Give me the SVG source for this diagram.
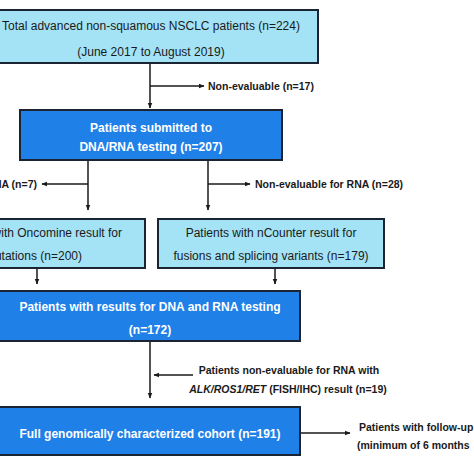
<svg xmlns="http://www.w3.org/2000/svg" width="474" height="474" viewBox="0 0 474 474">
<defs>
<style>
.light{fill:#a4e3f6;stroke:#1b2433;stroke-width:2}
.dark{fill:#1f80e8;stroke:#1b2433;stroke-width:2}
.t{font-family:"Liberation Sans",Arial,sans-serif;font-size:12px;fill:#1a1a1a}
.tw{font-family:"Liberation Sans",Arial,sans-serif;font-size:12px;font-weight:bold;fill:#ffffff}
.lb{font-family:"Liberation Sans",Arial,sans-serif;font-size:10.5px;font-weight:bold;fill:#1a1a1a}
.ln{stroke:#1a1a1a;stroke-width:1.5;fill:none}
</style>
<marker id="ah" viewBox="0 0 10 10" refX="9" refY="5" markerWidth="4" markerHeight="4" orient="auto">
<path d="M0,1 L10,5 L0,9 z" fill="#1a1a1a"/>
</marker>
</defs>
<rect width="474" height="474" fill="#ffffff"/>
<g id="connectors">
<path class="ln" d="M150,63 V108" marker-end="url(#ah)"/>
<path class="ln" d="M150,86 H204" marker-end="url(#ah)"/>
<path class="ln" d="M88,160 V210" marker-end="url(#ah)"/>
<path class="ln" d="M88,184 H42" marker-end="url(#ah)"/>
<path class="ln" d="M208,160 V210" marker-end="url(#ah)"/>
<path class="ln" d="M208,184 H250" marker-end="url(#ah)"/>
<path class="ln" d="M37,268 V284" marker-end="url(#ah)"/>
<path class="ln" d="M275,268 V284" marker-end="url(#ah)"/>
<path class="ln" d="M150,341 V398" marker-end="url(#ah)"/>
<path class="ln" d="M193,375 H154" marker-end="url(#ah)"/>
<path class="ln" d="M300,433 H350" marker-end="url(#ah)"/>
</g>
<g id="node-total">
<rect class="light" x="-10" y="10" width="328" height="53"/>
<text class="t" x="151" y="30" text-anchor="middle">Total advanced non-squamous NSCLC patients (n=224)</text>
<text class="t" x="151" y="56" text-anchor="middle">(June 2017 to August 2019)</text>
</g>
<g id="label-ne17">
<text class="lb" x="208" y="90">Non-evaluable (n=17)</text>
</g>
<g id="node-submitted">
<rect class="dark" x="20" y="110" width="262" height="50"/>
<text class="tw" x="151" y="132" text-anchor="middle">Patients submitted to</text>
<text class="tw" x="151" y="151" text-anchor="middle">DNA/RNA testing (n=207)</text>
</g>
<g id="label-ne7">
<text class="lb" x="37" y="188" text-anchor="end">Non-evaluable for DNA (n=7)</text>
</g>
<g id="label-ne28">
<text class="lb" x="255" y="188">Non-evaluable for RNA (n=28)</text>
</g>
<g id="node-oncomine">
<rect class="light" x="-82" y="219" width="227" height="49"/>
<text class="t" x="122" y="237" text-anchor="end">Patients with Oncomine result for</text>
<text class="t" x="82" y="260" text-anchor="end">mutations (n=200)</text>
</g>
<g id="node-ncounter">
<rect class="light" x="158" y="219" width="226" height="49"/>
<text class="t" x="271" y="237" text-anchor="middle">Patients with nCounter result for</text>
<text class="t" x="271" y="260" text-anchor="middle">fusions and splicing variants (n=179)</text>
</g>
<g id="node-dnarna">
<rect class="dark" x="-10" y="291" width="310" height="50"/>
<text class="tw" x="150" y="311" text-anchor="middle">Patients with results for DNA and RNA testing</text>
<text class="tw" x="150" y="334" text-anchor="middle">(n=172)</text>
</g>
<g id="label-ne19">
<text class="lb" x="289" y="374" text-anchor="middle">Patients non-evaluable for RNA with</text>
<text class="lb" x="288" y="393" text-anchor="middle"><tspan font-style="italic">ALK/ROS1/RET</tspan> (FISH/IHC) result (n=19)</text>
</g>
<g id="node-full">
<rect class="dark" x="-10" y="407" width="310" height="48"/>
<text class="tw" x="150" y="438" text-anchor="middle">Full genomically characterized cohort (n=191)</text>
</g>
<g id="label-followup">
<text class="lb" x="359" y="431">Patients with follow-up</text>
<text class="lb" x="357" y="449">(minimum of 6 months</text>
</g>
</svg>
